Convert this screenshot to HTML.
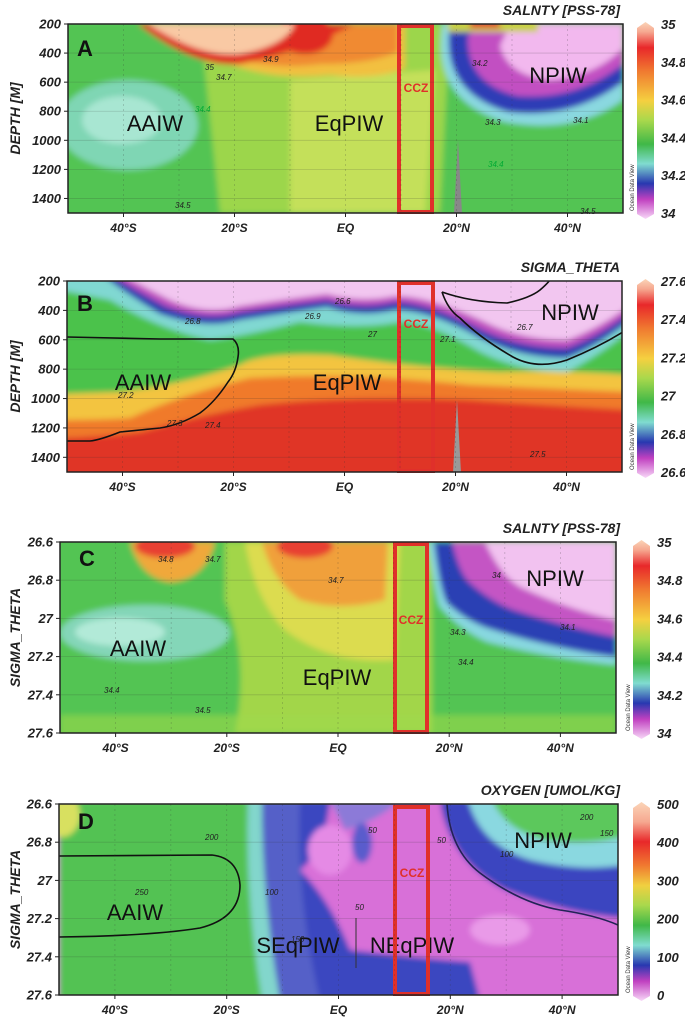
<!DOCTYPE html>
<html><head><meta charset="utf-8">
<style>
html,body{margin:0;padding:0;background:#fff;}
body{width:685px;height:1020px;overflow:hidden;font-family:"Liberation Sans",sans-serif;}
svg text{font-family:"Liberation Sans",sans-serif;}
</style></head>
<body>
<svg id="fig" width="685" height="1020" viewBox="0 0 685 1020" xmlns="http://www.w3.org/2000/svg">
<defs>
  <filter id="bl" x="-10%" y="-10%" width="120%" height="120%"><feGaussianBlur stdDeviation="3"/></filter>
  <clipPath id="cA"><rect x="68" y="24" width="555" height="189"/></clipPath>
  <clipPath id="cB"><rect x="67" y="281" width="555" height="191"/></clipPath>
  <clipPath id="cC"><rect x="60" y="542" width="556" height="191"/></clipPath>
  <clipPath id="cD"><rect x="59" y="804" width="559" height="191"/></clipPath>
  <linearGradient id="gSal" x1="0" y1="0" x2="0" y2="1">
    <stop offset="0" stop-color="#fbd5b8"/><stop offset="0.05" stop-color="#f6a890"/><stop offset="0.13" stop-color="#e8282a"/>
    <stop offset="0.25" stop-color="#f07a30"/><stop offset="0.4" stop-color="#f5d040"/>
    <stop offset="0.5" stop-color="#a8d84c"/><stop offset="0.62" stop-color="#40b848"/>
    <stop offset="0.72" stop-color="#80dcd0"/><stop offset="0.82" stop-color="#2838b0"/>
    <stop offset="0.9" stop-color="#c040c0"/><stop offset="1" stop-color="#f8d8f8"/>
  </linearGradient>
  <linearGradient id="gOxy" x1="0" y1="0" x2="0" y2="1">
    <stop offset="0" stop-color="#fbd5b8"/><stop offset="0.1" stop-color="#f6a890"/><stop offset="0.2" stop-color="#e8282a"/>
    <stop offset="0.32" stop-color="#f07a30"/><stop offset="0.42" stop-color="#f0d040"/>
    <stop offset="0.52" stop-color="#a8d84c"/><stop offset="0.62" stop-color="#40b848"/>
    <stop offset="0.72" stop-color="#80dcd0"/><stop offset="0.82" stop-color="#2838b0"/>
    <stop offset="0.9" stop-color="#c040c0"/><stop offset="1" stop-color="#f8d8f8"/>
  </linearGradient>
</defs>

<!-- ===== Panel A field ===== -->
<g clip-path="url(#cA)">
 <g filter="url(#bl)">
  <rect x="60" y="20" width="570" height="200" fill="#52c452"/>
  <path d="M200,24 L450,24 L440,213 L220,213 Z" fill="#9cd64c"/>
  <path d="M290,80 L435,70 L425,213 L290,213 Z" fill="#c4e05a"/>
  <ellipse cx="128" cy="125" rx="70" ry="45" fill="#7fd6b4"/>
  <ellipse cx="122" cy="120" rx="40" ry="24" fill="#a8e6d2"/>
  <path d="M170,24 Q230,85 330,75 Q380,80 405,68 L405,24 Z" fill="#f2c040"/>
  <path d="M180,24 Q235,75 320,64 Q370,64 398,52 L398,24 Z" fill="#f08a30"/>
  <path d="M138,24 Q195,68 240,64 Q300,52 355,24 Z" fill="#e02a22"/>
  <ellipse cx="305" cy="34" rx="28" ry="20" fill="#e02a22"/>
  <path d="M148,24 Q200,58 240,54 Q285,46 295,24 Z" fill="#f9c9a4"/>
  <path d="M443,24 Q430,100 505,122 Q575,135 623,100 L623,24 Z" fill="#8ad8e0"/>
  <path d="M450,24 Q440,92 508,112 Q572,120 623,82 L623,24 Z" fill="#2e3eb6"/>
  <path d="M468,36 Q466,84 518,96 Q578,100 623,64 L623,24 L480,24 Z" fill="#c250c2"/>
  <path d="M500,46 Q508,76 550,80 Q596,76 623,48 L623,24 L510,24 Z" fill="#f2b8ee"/>
  <rect x="448" y="20" width="90" height="12" fill="#c8d040"/>
  <rect x="470" y="20" width="30" height="8" fill="#e03030"/>
 </g>
 <polygon points="454,213 458,140 462,213" fill="#888"/>
</g>

<!-- ===== Panel B field ===== -->
<g clip-path="url(#cB)">
 <g filter="url(#bl)">
  <rect x="60" y="275" width="570" height="205" fill="#e03628"/>
  <path d="M60,275 L630,275 L630,410 Q540,405 470,400 Q350,395 260,405 Q200,415 140,432 Q100,437 60,438 Z" fill="#f07a2c"/>
  <path d="M60,275 L630,275 L630,392 Q540,388 470,385 Q350,372 250,378 Q180,395 130,418 Q100,420 60,420 Z" fill="#f3c440"/>
  <path d="M60,275 L630,275 L630,375 Q560,370 500,372 Q420,368 330,355 Q260,352 240,365 Q180,385 120,392 L60,394 Z" fill="#4cc24c"/>
  <path d="M60,275 L630,275 L630,330 Q600,355 567,372 Q520,372 480,352 Q430,322 400,322 Q360,330 300,322 Q250,335 210,340 Q160,330 110,300 L60,290 Z" fill="#80d8d2"/>
  <path d="M103,275 L630,275 L630,320 Q600,345 567,358 Q520,358 480,338 Q430,310 395,310 Q360,318 327,307 Q293,312 240,320 Q207,330 160,314 Q120,290 103,275 Z" fill="#2a3cb0"/>
  <path d="M112,275 L630,275 L630,312 Q600,336 567,348 Q520,348 482,330 Q430,303 395,302 Q360,310 327,300 Q293,304 240,312 Q207,322 165,306 Q125,284 112,275 Z" fill="#c050c0"/>
  <path d="M122,275 L630,275 L630,305 Q600,328 567,340 Q520,340 485,322 Q430,296 395,296 Q360,303 327,294 Q293,298 240,306 Q207,316 170,300 Q135,282 122,275 Z" fill="#f2c6f0"/>
 </g>
 <polygon points="453,473 457,400 461,473" fill="#999"/>
 <path d="M67,337 L160,339 L233,339 Q240,345 238,357 Q236,372 228,382 Q215,402 200,413 Q180,425 160,428 L120,432 Q100,440 90,441 L67,441" fill="none" stroke="#111" stroke-width="1.6"/>
 <path d="M442,292 Q448,310 460,318 Q480,338 513,357 Q537,370 567,360 Q597,348 623,332 M442,292 Q470,302 507,303 Q530,298 540,290 Q547,284 550,280" fill="none" stroke="#111" stroke-width="1.6"/>
</g>

<!-- ===== Panel C field ===== -->
<g clip-path="url(#cC)">
 <g filter="url(#bl)">
  <rect x="55" y="535" width="570" height="205" fill="#52c452"/>
  <path d="M225,542 L432,542 L432,733 L235,733 Q250,660 225,600 Z" fill="#a2d64a"/>
  <path d="M245,542 L400,542 L395,660 Q330,665 285,630 Q255,600 245,542 Z" fill="#dcdc50"/>
  <path d="M262,542 L388,542 L385,600 Q340,612 300,600 Q272,580 262,542 Z" fill="#f0a03a"/>
  <path d="M130,542 L215,542 Q205,580 170,582 Q140,578 130,542 Z" fill="#f0a83a"/>
  <ellipse cx="165" cy="546" rx="30" ry="12" fill="#e84030"/>
  <ellipse cx="305" cy="546" rx="28" ry="12" fill="#e84030"/>
  <ellipse cx="145" cy="633" rx="85" ry="28" fill="#84d6b8"/>
  <ellipse cx="120" cy="632" rx="45" ry="14" fill="#b2ead8"/>
  <rect x="60" y="715" width="556" height="20" fill="#9ed84c" opacity="0.6"/>
  <path d="M428,542 Q436,600 440,607 Q460,630 487,642 Q550,658 616,665 L616,542 Z" fill="#88d8e0"/>
  <path d="M434,542 Q440,590 447,603 Q465,620 487,628 Q550,648 616,657 L616,542 Z" fill="#2c40b4"/>
  <path d="M452,542 Q460,575 470,583 Q495,605 520,612 Q570,628 616,637 L616,542 Z" fill="#c455c4"/>
  <path d="M485,542 Q500,575 520,587 Q570,610 616,620 L616,542 Z" fill="#f2c2f0"/>
 </g>
</g>

<!-- ===== Panel D field ===== -->
<g clip-path="url(#cD)">
 <g filter="url(#bl)">
  <rect x="55" y="800" width="570" height="200" fill="#d870d8"/>
  <path d="M262,800 L330,800 Q325,850 300,870 Q330,900 350,950 Q420,958 470,962 L480,1000 L262,1000 Z" fill="#3a46c0"/>
  <path d="M330,800 L400,800 Q380,820 345,830 Z" fill="#8c7ad8"/>
  <ellipse cx="362" cy="843" rx="10" ry="20" fill="#5a5ccc"/>
  <path d="M262,800 L300,800 Q296,900 320,1000 L270,1000 Z" fill="#5560c8"/>
  <path d="M59,800 L262,800 Q262,900 280,1000 L59,1000 Z" fill="#82d6cc"/>
  <path d="M59,800 L248,800 Q245,900 262,1000 L59,1000 Z" fill="#52c252"/>
  <ellipse cx="62" cy="815" rx="18" ry="22" fill="#d8e060"/>
  <path d="M440,800 Q448,860 505,890 Q570,915 625,918 L625,800 Z" fill="#3a44c0"/>
  <path d="M468,800 Q480,845 530,860 Q580,872 625,865 L625,800 Z" fill="#8ad8e0"/>
  <path d="M492,800 Q505,830 545,840 Q590,846 625,836 L625,800 Z" fill="#5cc85c"/>
  <ellipse cx="500" cy="930" rx="30" ry="15" fill="#e99ae8"/>
  <ellipse cx="330" cy="850" rx="22" ry="25" fill="#e58ae5"/>
 </g>
 <path d="M59,856 L212,855 Q238,858 240,885 Q240,918 200,928 Q150,936 59,937" fill="none" stroke="#111" stroke-width="1.6"/>
 <path d="M447,804 Q450,850 480,873 Q520,903 560,910 Q595,915 618,925" fill="none" stroke="#222256" stroke-width="1.6"/>
 <line x1="356" y1="918" x2="356" y2="968" stroke="#333" stroke-width="1"/>
</g>

<!-- labels inside panels -->
<g font-size="22" fill="#111">
 <text x="77" y="56" font-size="22" font-weight="bold">A</text>
 <text x="155" y="131" text-anchor="middle">AAIW</text>
 <text x="349" y="131" text-anchor="middle">EqPIW</text>
 <text x="558" y="83" text-anchor="middle">NPIW</text>
 <text x="77" y="311" font-size="22" font-weight="bold">B</text>
 <text x="143" y="390" text-anchor="middle">AAIW</text>
 <text x="347" y="390" text-anchor="middle">EqPIW</text>
 <text x="570" y="320" text-anchor="middle">NPIW</text>
 <text x="79" y="566" font-size="22" font-weight="bold">C</text>
 <text x="138" y="656" text-anchor="middle">AAIW</text>
 <text x="337" y="685" text-anchor="middle">EqPIW</text>
 <text x="555" y="586" text-anchor="middle">NPIW</text>
 <text x="78" y="829" font-size="22" font-weight="bold">D</text>
 <text x="135" y="920" text-anchor="middle">AAIW</text>
 <text x="298" y="953" text-anchor="middle">SEqPIW</text>
 <text x="412" y="953" text-anchor="middle">NEqPIW</text>
 <text x="543" y="848" text-anchor="middle">NPIW</text>
</g>

<g font-size="8" font-style="italic" fill="#222">
 <text x="205" y="70">35</text><text x="216" y="80">34.7</text><text x="263" y="62">34.9</text>
 <text x="195" y="112" fill="#0a3">34.4</text><text x="175" y="208">34.5</text>
 <text x="485" y="125">34.3</text><text x="573" y="123">34.1</text><text x="488" y="167" fill="#0a3">34.4</text>
 <text x="472" y="66">34.2</text><text x="580" y="214">34.5</text>
 <text x="185" y="324">26.8</text><text x="305" y="319">26.9</text><text x="335" y="304">26.6</text>
 <text x="368" y="337">27</text><text x="440" y="342">27.1</text><text x="517" y="330">26.7</text>
 <text x="118" y="398">27.2</text><text x="167" y="426">27.3</text><text x="205" y="428">27.4</text><text x="530" y="457">27.5</text>
 <text x="158" y="562">34.8</text><text x="205" y="562">34.7</text><text x="328" y="583">34.7</text>
 <text x="104" y="693">34.4</text><text x="195" y="713">34.5</text>
 <text x="492" y="578">34</text><text x="560" y="630">34.1</text><text x="450" y="635">34.3</text><text x="458" y="665">34.4</text>
 <text x="205" y="840">200</text><text x="135" y="895">250</text><text x="265" y="895">100</text><text x="291" y="942">150</text>
 <text x="368" y="833">50</text><text x="355" y="910">50</text><text x="437" y="843">50</text>
 <text x="500" y="857">100</text><text x="580" y="820">200</text><text x="600" y="836">150</text>
</g>

<g fill="none" stroke="#e0302a" stroke-width="4">
 <rect x="399" y="26" width="33" height="186"/>
 <rect x="399" y="283" width="34" height="188"/>
 <rect x="395" y="544" width="32" height="188"/>
 <rect x="395" y="807" width="33" height="187"/>
</g>
<g fill="#e0302a" font-size="12" font-weight="bold" text-anchor="middle">
 <text x="416" y="92">CCZ</text><text x="416" y="328">CCZ</text><text x="411" y="624">CCZ</text><text x="412" y="877">CCZ</text>
</g>

<g id="axes"></g>
</svg>

<script>
// ---- data arrays ----
const depthTicks = [200, 400, 600, 800, 1000, 1200, 1400];
const sigmaTicks = [26.6, 26.8, 27, 27.2, 27.4, 27.6];
const lonTicks = [-40, -20, 0, 20, 40];
const lonLabels = ["40°S", "20°S", "EQ", "20°N", "40°N"];
const salCbarLabels = [35, 34.8, 34.6, 34.4, 34.2, 34];
const sigCbarLabels = [27.6, 27.4, 27.2, 27, 26.8, 26.6];
const oxyCbarLabels = [500, 400, 300, 200, 100, 0];
const titles = ["SALNTY [PSS-78]", "SIGMA_THETA", "SALNTY [PSS-78]", "OXYGEN [UMOL/KG]"];

const NS = "http://www.w3.org/2000/svg";
const axes = document.getElementById("axes");
function mk(tag, attrs, parent) {
  const e = document.createElementNS(NS, tag);
  for (const k in attrs) e.setAttribute(k, attrs[k]);
  (parent || axes).appendChild(e);
  return e;
}
const panels = [
  {x0:68, x1:623, y0:24, y1:213, ticks:depthTicks, ymin:200, ymax:1500, ytitle:"DEPTH [M]", cb:salCbarLabels, grad:"gSal", cbx:637, dec:0},
  {x0:67, x1:622, y0:281, y1:472, ticks:depthTicks, ymin:200, ymax:1500, ytitle:"DEPTH [M]", cb:sigCbarLabels, grad:"gSal", cbx:637, dec:0},
  {x0:60, x1:616, y0:542, y1:733, ticks:sigmaTicks, ymin:26.6, ymax:27.6, ytitle:"SIGMA_THETA", cb:salCbarLabels, grad:"gSal", cbx:633, dec:1},
  {x0:59, x1:618, y0:804, y1:995, ticks:sigmaTicks, ymin:26.6, ymax:27.6, ytitle:"SIGMA_THETA", cb:oxyCbarLabels, grad:"gOxy", cbx:633, dec:1}
];
panels.forEach((p, i) => {
  const xs = v => p.x0 + (v + 50) / 100 * (p.x1 - p.x0);
  const ys = v => p.y0 + (v - p.ymin) / (p.ymax - p.ymin) * (p.y1 - p.y0);
  const g = mk("g", {});
  
  
  for (let lon = -40; lon <= 40; lon += 10) {
    const gl = mk("line", {x1:xs(lon), x2:xs(lon), y1:p.y0, y2:p.y1, stroke:"#333", "stroke-opacity":0.25, "stroke-dasharray":"2,3", "stroke-width":0.8}, g);
    
    
  }
  p.ticks.forEach(t => {
    const gl = mk("line", {x1:p.x0, x2:p.x1, y1:ys(t), y2:ys(t), stroke:"#333", "stroke-opacity":0.2, "stroke-width":0.8}, g);
    
    
    const tk = mk("line", {x1:p.x0 - 4, x2:p.x0, y1:ys(t), y2:ys(t), stroke:"#222"}, g);
    
    
    const lb = mk("text", {x:p.x0 - 7, y:ys(t) + 4.5, "text-anchor":"end", "font-size":13, "font-weight":"bold", "font-style":"italic", fill:"#222"}, g);
    lb.textContent = p.dec ? (Number.isInteger(t) ? String(t) : t.toFixed(1)) : String(t);
    
    
  });
  lonTicks.forEach((lon, j) => {
    const tk = mk("line", {x1:xs(lon), x2:xs(lon), y1:p.y1, y2:p.y1 + 4, stroke:"#222"}, g);
    
    
    const lb = mk("text", {x:xs(lon), y:p.y1 + 19, "text-anchor":"middle", "font-size":12, "font-weight":"bold", "font-style":"italic", fill:"#222"}, g);
    lb.textContent = lonLabels[j];
    
    
  });
  const fr = mk("rect", {x:p.x0, y:p.y0, width:p.x1 - p.x0, height:p.y1 - p.y0, fill:"none", stroke:"#222", "stroke-width":1.5}, g);
  
  
  const yt = mk("text", {x:0, y:0, transform:`translate(20,${(p.y0 + p.y1) / 2}) rotate(-90)`, "text-anchor":"middle", "font-size":14, "font-weight":"bold", "font-style":"italic", fill:"#222"}, g);
  yt.textContent = p.ytitle;
  
  
  const tt = mk("text", {x:620, y:p.y0 - 9, "text-anchor":"end", "font-size":14, "font-weight":"bold", "font-style":"italic", fill:"#222"}, g);
  tt.textContent = titles[i];
  
  
  const w = 17, cx = p.cbx;
  const cb = mk("path", {d:`M${cx},${p.y0 + 4} L${cx + w / 2},${p.y0 - 2} L${cx + w},${p.y0 + 4} L${cx + w},${p.y1 + 1} L${cx + w / 2},${p.y1 + 6} L${cx},${p.y1 + 1} Z`, fill:`url(#${p.grad})`}, g);
  
  
  const n = p.cb.length;
  p.cb.forEach((v, k) => {
    const yy = p.y0 + k / (n - 1) * (p.y1 - p.y0);
    const lb = mk("text", {x:cx + w + 7, y:yy + 5, "font-size":13, "font-weight":"bold", "font-style":"italic", fill:"#222"}, g);
    lb.textContent = String(v);
    
    
  });
  const od = mk("text", {x:0, y:0, transform:`translate(${cx - 3},${p.y1 - 2}) rotate(-90)`, "font-size":6, fill:"#333"}, g);
  od.textContent = "Ocean Data View";
  
  
});
</script>
</body></html>
